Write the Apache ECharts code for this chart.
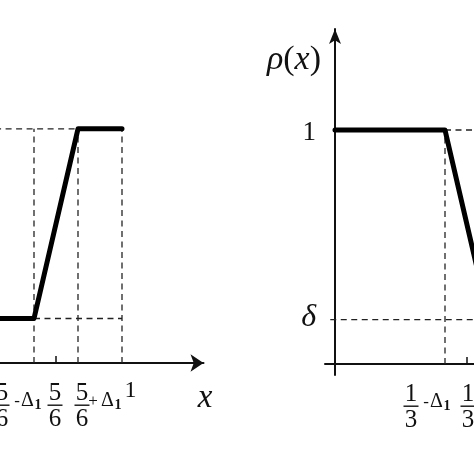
<!DOCTYPE html>
<html>
<head>
<meta charset="utf-8">
<script src="https://cdn.jsdelivr.net/npm/echarts@6/dist/echarts.min.js"></script>
<style>html,body{margin:0;padding:0;background:#fff;}#c{width:474px;height:474px;}</style>
</head>
<body>
<div id="c"></div>
<script>
// ---- data ----
const D1 = 1 / 18;          // Δ1
const DELTA = 0.19;         // δ
const rhoX = [0, 1/3 - D1, 1/3 + D1, 5/6 - D1, 5/6 + D1, 1];
const rhoY = [1, 1, DELTA, DELTA, 1, 1];

const leftTickValues = [5/6 - D1, 5/6, 5/6 + D1, 1];
const leftTickNum    = ['5', '5', '5', '1'];
const leftTickDen    = ['6', '6', '6', ''];
const leftTickSign   = ['-', '', '+', ''];

const rightTickValues = [1/3 - D1, 1/3];
const rightTickNum    = ['1', '1'];
const rightTickDen    = ['3', '3'];
const rightTickSign   = ['-', ''];

const yTickValues = [DELTA, 1];

const leftGuides = [
  [[0.6, 1], [5/6 + D1, 1]],
  [[5/6 - D1, DELTA], [1, DELTA]],
  [[5/6 - D1, 0], [5/6 - D1, 1]],
  [[5/6 + D1, 0], [5/6 + D1, 1]],
  [[1, 0], [1, 1]]
];
const rightGuides = [
  [[1/3 - D1, 1], [0.6, 1]],
  [[-0.012, DELTA], [0.6, DELTA]],
  [[1/3 - D1, 0], [1/3 - D1, 1]]
];

// ---- layout / style ----
const FONT = '"Liberation Serif", "DejaVu Serif", serif';
const INK = '#111';
const leftLabelDx = [-32, -1, 4, 8.5];
const rightLabelDx = [-34, 1];

const rhoData = rhoX.map((x, i) => [x, rhoY[i]]);

function curve(idx) {
  return {
    type: 'line', xAxisIndex: idx, yAxisIndex: idx, data: rhoData,
    symbol: 'none', clip: true, z: 4, silent: true,
    lineStyle: { color: '#000', width: 5, cap: 'round', join: 'round' }
  };
}
function guide(idx, seg) {
  return {
    type: 'line', xAxisIndex: idx, yAxisIndex: idx, data: seg,
    symbol: 'none', clip: true, z: 2, silent: true,
    lineStyle: { color: '#222', width: 1.3, type: [6, 4.5] }
  };
}
function txt(s, x, y, size, extra) {
  return {
    type: 'text', x: x, y: y,
    style: Object.assign({
      text: s, fill: INK, font: size + 'px ' + FONT,
      align: 'center', verticalAlign: 'middle',
      textAlign: 'center', textVerticalAlign: 'middle'
    }, extra || {})
  };
}
function labelSeries(idx, values, nums, dens, signs, dxs) {
  return {
    type: 'custom', xAxisIndex: idx, yAxisIndex: idx, z: 6, silent: true,
    data: values.map(v => [v, 0]),
    renderItem: function (params, api) {
      const i = params.dataIndex;
      const p = api.coord([api.value(0), api.value(1)]);
      const cx = p[0] + dxs[i], y0 = p[1];
      const ch = [];
      if (!dens[i]) {
        ch.push(txt(nums[i], cx, y0 + 28, 24));
      } else {
        ch.push(txt(nums[i], cx, y0 + 30, 25));
        ch.push({ type: 'rect', shape: { x: cx - 7.5, y: y0 + 41.5, width: 15, height: 1.4 }, style: { fill: INK } });
        ch.push(txt(dens[i], cx, y0 + 56, 25));
        if (signs[i]) {
          ch.push(txt(signs[i], cx + (signs[i] === '+' ? 11 : 15), y0 + 39, 17));
          ch.push(txt('Δ', cx + 25.5, y0 + 38, 20));
          ch.push(txt('1', cx + 36, y0 + 42, 14, { font: 'bold 14px ' + FONT }));
        }
      }
      return { type: 'group', children: ch };
    }
  };
}

const chart = echarts.init(document.getElementById('c'), null, { renderer: 'canvas' });
const leftXMin = 5/6 - 56/396;
const rightXMin = -10/396;

chart.setOption({
  animation: false,
  backgroundColor: '#fff',
  grid: [
    { left: 0, top: 82, width: 203.5, height: 281, containLabel: false, outerBoundsMode: 'none' },
    { left: 325, top: 29, width: (0.6 - rightXMin) * 396, height: 346, containLabel: false, outerBoundsMode: 'none' }
  ],
  xAxis: [
    {
      type: 'value', gridIndex: 0, min: leftXMin, max: leftXMin + 203.5/396,
      splitLine: { show: false },
      axisLine: { show: true, onZero: true, symbol: ['none', 'arrow'], symbolSize: [13, 13], lineStyle: { color: INK, width: 2 } },
      axisTick: { show: true, inside: true, length: 7, customValues: [5/6], lineStyle: { color: INK, width: 1.5 } },
      axisLabel: { show: false },
      name: '{i|x}', nameLocation: 'end', nameGap: 1.5,
      nameTextStyle: {
        align: 'center', verticalAlign: 'middle', padding: [70, 0, 0, 0],
        rich: { i: { fontFamily: FONT, fontStyle: 'italic', fontSize: 33, color: INK } }
      }
    },
    {
      type: 'value', gridIndex: 1, min: rightXMin, max: 0.6,
      splitLine: { show: false },
      axisLine: { show: true, onZero: true, lineStyle: { color: INK, width: 2 } },
      axisTick: { show: true, inside: true, length: 7, customValues: [1/3], lineStyle: { color: INK, width: 1.5 } },
      axisLabel: { show: false }
    }
  ],
  yAxis: [
    {
      type: 'value', gridIndex: 0, min: 0, max: 1.2, show: false,
      splitLine: { show: false }
    },
    {
      type: 'value', gridIndex: 1, min: -11/234, max: 335/234,
      splitLine: { show: false },
      axisLine: { show: true, onZero: true, symbol: ['none', 'arrow'], symbolSize: [9, 15], lineStyle: { color: INK, width: 2 } },
      axisTick: { show: false },
      axisLabel: {
        show: true, customValues: yTickValues, margin: 9,
        formatter: function (v) { return v > 0.5 ? '{n|1}' : '{i|δ}'; },
        rich: {
          n: { fontFamily: FONT, fontSize: 27, color: INK, padding: [5, 0, 0, 0] },
          i: { fontFamily: FONT, fontStyle: 'italic', fontSize: 32, color: INK, padding: [0, 0, 4, 0] }
        }
      },
      name: '{i|ρ}{r|(}{i|x}{r|)}', nameLocation: 'end', nameGap: -31, nameRotate: 0,
      nameTextStyle: {
        align: 'right', verticalAlign: 'middle', padding: [0, 14, 0, 0],
        rich: {
          i: { fontFamily: FONT, fontStyle: 'italic', fontSize: 34, color: INK },
          r: { fontFamily: FONT, fontSize: 34, color: INK }
        }
      }
    }
  ],
  series: [
    curve(0),
    curve(1),
    ...leftGuides.map(s => guide(0, s)),
    ...rightGuides.map(s => guide(1, s)),
    labelSeries(0, leftTickValues, leftTickNum, leftTickDen, leftTickSign, leftLabelDx),
    labelSeries(1, rightTickValues, rightTickNum, rightTickDen, rightTickSign, rightLabelDx)
  ]
});
</script>
</body>
</html>
